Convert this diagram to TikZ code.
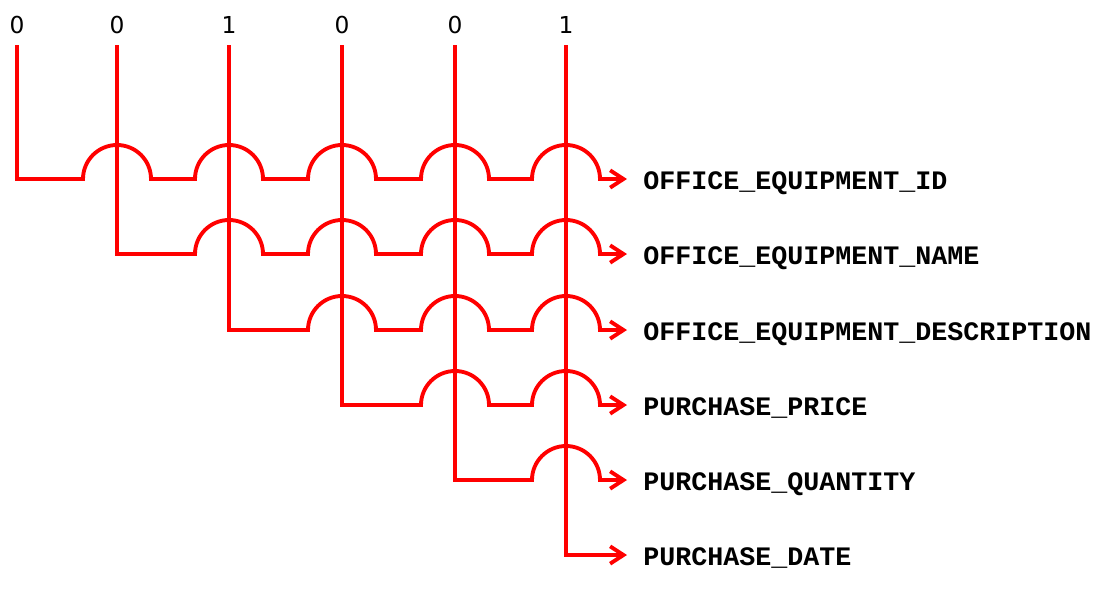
\documentclass[tikz,border=0pt]{standalone}
\usepackage{fontspec}
\setmainfont{DejaVu Sans}
\newfontfamily\labfont{Liberation Mono}
\usetikzlibrary{arrows.meta}
\begin{document}
\begin{tikzpicture}[x=0.75pt,y=-0.75pt,
  wire/.style={draw=red, line width=2.9pt, line join=miter},
  tip/.style={-{Straight Barb[length=10pt,width=13pt]}},
  digit/.style={font=\fontsize{17.5}{20}\selectfont, inner sep=0pt},
  lab/.style={font=\labfont\bfseries\fontsize{20}{22}\selectfont, inner sep=0pt, anchor=base west}]
\useasboundingbox (0,0) rectangle (1106,590);

% digits and labels
\foreach \i/\x/\y/\b/\t in {
  0/17/179/0/OFFICE\_EQUIPMENT\_ID,
  1/117/254/0/OFFICE\_EQUIPMENT\_NAME,
  2/229/330/1/OFFICE\_EQUIPMENT\_DESCRIPTION,
  3/342/405/0/PURCHASE\_PRICE,
  4/455/480/0/PURCHASE\_QUANTITY,
  5/566/555/1/PURCHASE\_DATE}{
  \node[digit] (d\i) at (\x,25) {\b};
  \coordinate (t\i) at (\x,45);
  \coordinate (c\i) at (\x,\y);
  \coordinate (e\i) at (627,\y);
  \node[lab] (l\i) at (643,\y+10) {\t};
}

% wires with hops
\foreach \i/\hops in {
  0/{117,229,342,455,566},
  1/{229,342,455,566},
  2/{342,455,566},
  3/{455,566},
  4/{566}}{
  \draw[wire,tip] (t\i) -- (c\i)
    \foreach \j in \hops { -- ([xshift=-25.5pt]c\i -| \j,0) arc[start angle=180,end angle=360,radius=34] }
    -- (e\i);
}
\draw[wire,tip] (t5) -- (c5) -- (e5);
\end{tikzpicture}
\end{document}
